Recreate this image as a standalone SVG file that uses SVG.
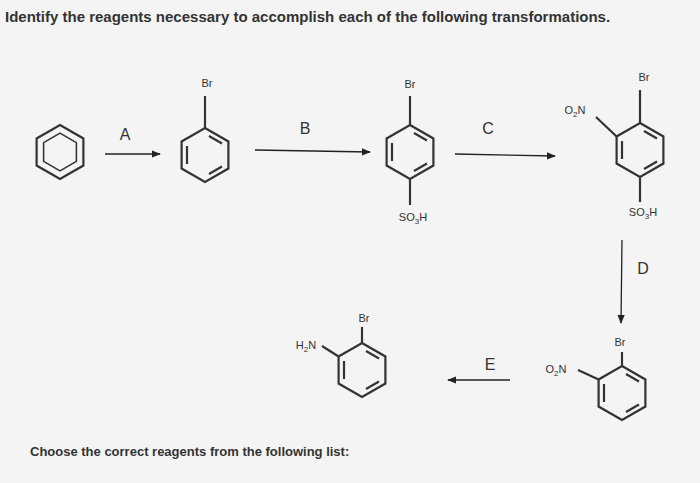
<svg xmlns="http://www.w3.org/2000/svg" width="700" height="483" viewBox="0 0 700 483">
<defs>
<style>
.b{fill:none;stroke:#333;stroke-width:2.2}
.t{font-family:"Liberation Sans",Arial,sans-serif;fill:#333}
.s{font-size:11px}
.l{font-size:16px}
.c{stroke:#222;stroke-width:1.3;fill:none}
</style>
<marker id="ah" viewBox="0 0 10 10" refX="9" refY="5" markerWidth="7" markerHeight="7" orient="auto"><path d="M0,1 L10,5 L0,9 z" fill="#222"/></marker>
<g id="ring"><polygon class="b" points="0,-27 23.4,-13.5 23.4,13.5 0,27 -23.4,13.5 -23.4,-13.5"/><line class="b" x1="4" y1="-19" x2="17" y2="-11.5"/><line class="b" x1="17" y1="11.5" x2="4" y2="19"/><line class="b" x1="-18" y1="9" x2="-18" y2="-9"/></g>
</defs>
<rect width="700" height="483" fill="#f4f4f4"/>
<text class="t" x="5" y="22" font-size="15" font-weight="bold">Identify the reagents necessary to accomplish each of the following transformations.</text>
<g id="n1"><polygon class="b" transform="translate(60,152)" points="0,-27 23.4,-13.5 23.4,13.5 0,27 -23.4,13.5 -23.4,-13.5"/><polygon class="b" transform="translate(60,152) scale(0.7)" points="0,-27 23.4,-13.5 23.4,13.5 0,27 -23.4,13.5 -23.4,-13.5" stroke-linejoin="round"/></g>
<g id="n2"><use href="#ring" x="205" y="155"/><line class="b" x1="205" y1="128" x2="205" y2="96"/><text class="t s" x="207" y="87" text-anchor="middle">Br</text></g>
<g id="n3"><use href="#ring" x="410" y="152"/><line class="b" x1="410" y1="125" x2="410" y2="96"/><line class="b" x1="410" y1="179" x2="410" y2="205"/><text class="t s" x="410" y="88" text-anchor="middle">Br</text><text class="t s" x="413" y="221" text-anchor="middle">SO<tspan font-size="8" dy="3">3</tspan><tspan dy="-3">H</tspan></text></g>
<g id="n4"><use href="#ring" x="640" y="150"/><line class="b" x1="640" y1="123" x2="640" y2="90"/><line class="b" x1="640" y1="177" x2="640" y2="202"/><line class="b" x1="616.6" y1="136.5" x2="596" y2="117"/><text class="t s" x="644" y="81" text-anchor="middle">Br</text><text class="t s" x="575" y="114" text-anchor="middle">O<tspan font-size="8" dy="3">2</tspan><tspan dy="-3">N</tspan></text><text class="t s" x="643" y="216" text-anchor="middle">SO<tspan font-size="8" dy="3">3</tspan><tspan dy="-3">H</tspan></text></g>
<g id="n5"><use href="#ring" x="622" y="393"/><line class="b" x1="622" y1="366" x2="622" y2="352"/><line class="b" x1="598.6" y1="379.5" x2="578" y2="370"/><text class="t s" x="620" y="346" text-anchor="middle" font-size="10">Br</text><text class="t s" x="556" y="373" text-anchor="middle">O<tspan font-size="8" dy="3">2</tspan><tspan dy="-3">N</tspan></text></g>
<g id="n6"><use href="#ring" x="362" y="370"/><line class="b" x1="362" y1="343" x2="362" y2="327"/><line class="b" x1="338.6" y1="356.5" x2="322" y2="346"/><text class="t s" x="364" y="322" text-anchor="middle" font-size="10">Br</text><text class="t s" x="306" y="349" text-anchor="middle">H<tspan font-size="8" dy="3">2</tspan><tspan dy="-3">N</tspan></text></g>
<g id="connectors">
<line class="c" x1="105" y1="154" x2="160" y2="154" marker-end="url(#ah)"/>
<line class="c" x1="255" y1="150" x2="370" y2="152" marker-end="url(#ah)"/>
<line class="c" x1="455" y1="154" x2="555" y2="156" marker-end="url(#ah)"/>
<line class="c" x1="622" y1="240" x2="621" y2="323" marker-end="url(#ah)"/>
<line class="c" x1="510" y1="380" x2="448" y2="380" marker-end="url(#ah)"/>
</g>
<text class="t l" x="125" y="140" text-anchor="middle">A</text>
<text class="t l" x="305" y="134" text-anchor="middle">B</text>
<text class="t l" x="488" y="134" text-anchor="middle">C</text>
<text class="t l" x="643" y="274" text-anchor="middle">D</text>
<text class="t l" x="490" y="370" text-anchor="middle">E</text>
<text class="t" x="30" y="456" font-size="13" font-weight="bold">Choose the correct reagents from the following list:</text>
</svg>
